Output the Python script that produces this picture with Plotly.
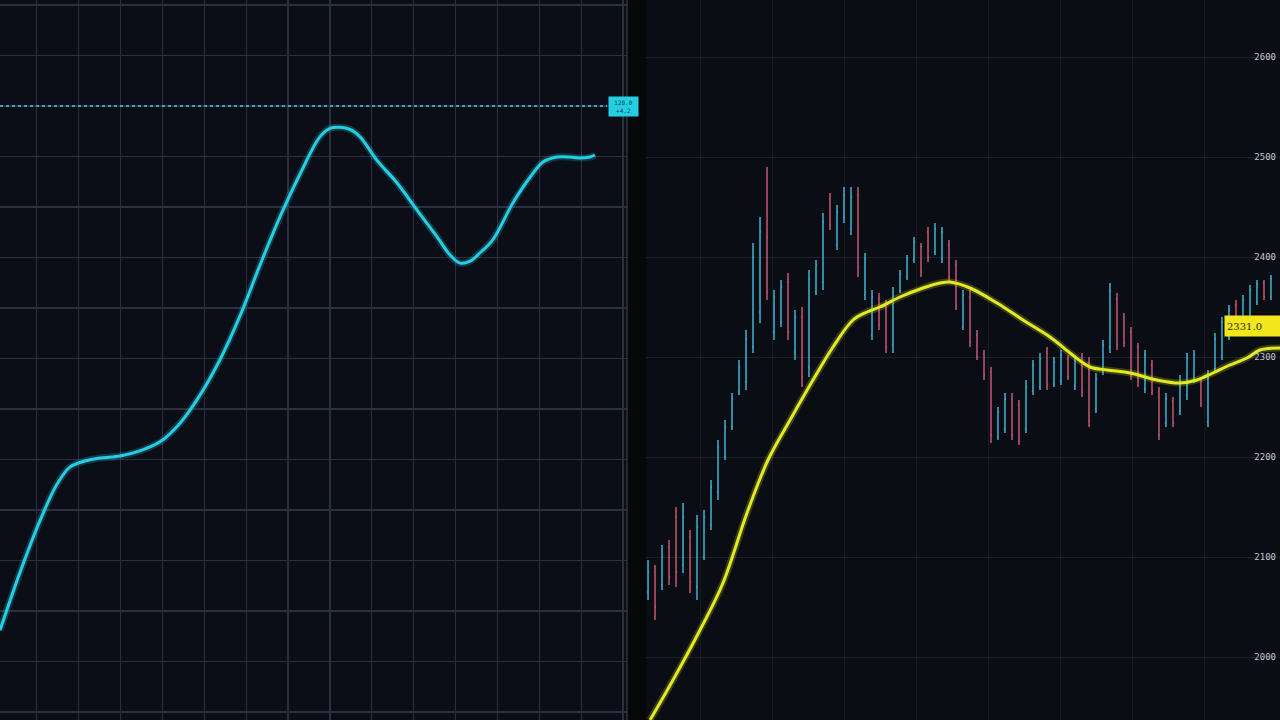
import plotly.graph_objects as go

# ---------------- Left panel: smooth cyan indicator ----------------
left_x = [0.00, 0.48, 0.96, 1.36, 1.67, 2.03, 2.39, 2.87, 3.34, 3.82, 4.30, 4.78, 5.25,
          5.73, 6.21, 6.69, 7.17, 7.64, 7.88, 8.12, 8.36, 8.60, 9.00, 9.48, 9.96, 10.44,
          10.75, 10.99, 11.23, 11.46, 11.77, 12.25, 12.66, 12.97, 13.30, 13.61, 13.85,
          14.09, 14.21]
left_y = [16.2, 27.7, 38.0, 45.1, 48.5, 49.7, 50.3, 50.7, 51.7, 53.5, 57.2, 62.8, 69.7,
          78.4, 88.5, 98.1, 106.6, 113.9, 115.6, 115.8, 115.4, 113.9, 109.3, 104.8, 99.4,
          94.1, 90.5, 88.9, 89.3, 90.9, 93.5, 100.8, 105.9, 108.9, 109.9, 109.9, 109.7,
          109.9, 110.3]
left_level = 120.0
left_level_label = "120.0<br>+4.2"

# ---------------- Right panel: price bars + moving average ----------------
bar_high = [2097, 2092, 2112, 2117, 2150, 2154, 2127, 2142, 2147, 2177, 2217, 2237, 2264, 2297,
            2327, 2414, 2440, 2490, 2367, 2377, 2384, 2347, 2350, 2387, 2397, 2444, 2464, 2452,
            2470, 2470, 2470, 2404, 2367, 2364, 2357, 2370, 2387, 2402, 2420, 2414, 2430, 2434,
            2430, 2417, 2397, 2367, 2367, 2327, 2307, 2290, 2250, 2264, 2264, 2257, 2277, 2297,
            2304, 2310, 2300, 2307, 2302, 2302, 2304, 2300, 2284, 2317, 2374, 2364, 2344, 2330,
            2314, 2307, 2297, 2270, 2264, 2260, 2282, 2304, 2307, 2280, 2287, 2324, 2340, 2352,
            2357, 2362, 2372, 2377, 2377, 2382]
bar_low = [2057, 2037, 2067, 2072, 2070, 2084, 2064, 2057, 2097, 2127, 2157, 2197, 2227, 2262,
           2267, 2304, 2334, 2357, 2317, 2330, 2317, 2297, 2270, 2280, 2362, 2367, 2427, 2407,
           2434, 2422, 2380, 2357, 2317, 2327, 2304, 2304, 2364, 2377, 2394, 2380, 2395, 2402,
           2394, 2375, 2347, 2327, 2310, 2297, 2277, 2214, 2217, 2224, 2217, 2212, 2224, 2262,
           2267, 2267, 2270, 2272, 2277, 2267, 2260, 2230, 2244, 2282, 2304, 2307, 2310, 2277,
           2270, 2264, 2262, 2217, 2230, 2230, 2242, 2257, 2274, 2250, 2230, 2284, 2297, 2317,
           2327, 2327, 2337, 2352, 2357, 2357]
bar_open = [2065, 2085, 2072, 2110, 2140, 2092, 2120, 2070, 2100, 2132, 2165, 2200, 2230, 2265,
            2275, 2310, 2345, 2420, 2325, 2335, 2375, 2305, 2340, 2290, 2365, 2375, 2458, 2412,
            2440, 2428, 2462, 2362, 2322, 2358, 2350, 2312, 2366, 2380, 2397, 2410, 2425, 2405,
            2398, 2412, 2392, 2330, 2360, 2322, 2303, 2285, 2220, 2228, 2258, 2252, 2228, 2266,
            2270, 2305, 2273, 2276, 2298, 2271, 2300, 2294, 2248, 2286, 2310, 2358, 2340, 2325,
            2310, 2268, 2292, 2265, 2234, 2256, 2246, 2262, 2278, 2276, 2235, 2288, 2301, 2320,
            2352, 2330, 2340, 2355, 2374, 2360]
bar_close = [2085, 2050, 2100, 2080, 2085, 2140, 2075, 2130, 2140, 2170, 2210, 2230, 2258, 2290,
             2318, 2400, 2425, 2365, 2360, 2370, 2325, 2340, 2280, 2378, 2392, 2435, 2432, 2445,
             2462, 2460, 2390, 2398, 2360, 2332, 2310, 2362, 2383, 2398, 2415, 2385, 2400, 2428,
             2425, 2380, 2352, 2362, 2315, 2300, 2282, 2222, 2245, 2258, 2222, 2216, 2270, 2292,
             2298, 2272, 2295, 2302, 2280, 2296, 2265, 2236, 2278, 2312, 2366, 2312, 2314, 2282,
             2275, 2302, 2266, 2222, 2258, 2234, 2276, 2298, 2302, 2254, 2280, 2318, 2335, 2347,
             2331, 2357, 2367, 2373, 2360, 2378]
bar_index = list(range(len(bar_high)))

ma_x = [0.29, 3.57, 7.43, 10.71, 14.14, 17.14, 20.29, 23.57, 26.43, 29.29, 31.29, 33.14, 36.00,
        39.29, 41.71, 43.14, 46.00, 49.86, 53.57, 57.43, 60.29, 63.14, 65.57, 68.86, 72.71,
        76.00, 78.43, 80.71, 83.14, 85.57, 87.43, 90.29]
ma_y = [1937, 1977, 2027, 2074, 2144, 2197, 2237, 2277, 2310, 2337, 2345, 2350, 2360, 2369, 2374,
        2375, 2369, 2354, 2337, 2320, 2304, 2290, 2287, 2284, 2277, 2274, 2277, 2284, 2292, 2299,
        2307, 2309]
price_label = "2331.0"
price_label_level = 2331
right_ticks = [2000, 2100, 2200, 2300, 2400, 2500, 2600]

CYAN = "#25cfe3"
YELLOW = "#e3eb1f"

fig = go.Figure()

# cyan glow + line
fig.add_trace(go.Scatter(x=left_x, y=left_y, mode="lines", xaxis="x", yaxis="y",
                         line=dict(color="rgba(37,207,227,0.22)", width=7, shape="spline"),
                         hoverinfo="skip", showlegend=False))
fig.add_trace(go.Scatter(x=left_x, y=left_y, mode="lines", xaxis="x", yaxis="y",
                         line=dict(color=CYAN, width=3, shape="spline"), showlegend=False))
# dotted level line
fig.add_trace(go.Scatter(x=[0, 14.5], y=[left_level, left_level], mode="lines",
                         xaxis="x", yaxis="y",
                         line=dict(color="#4fc6da", width=1.6, dash="dot"), showlegend=False))

# OHLC bars
fig.add_trace(go.Ohlc(x=bar_index, open=bar_open, high=bar_high, low=bar_low, close=bar_close,
                      xaxis="x2", yaxis="y2", tickwidth=0.15,
                      increasing=dict(line=dict(color="#3fa9c6", width=1.6)),
                      decreasing=dict(line=dict(color="#b9546e", width=1.6)),
                      showlegend=False))
# moving average
fig.add_trace(go.Scatter(x=ma_x, y=ma_y, mode="lines", xaxis="x2", yaxis="y2",
                         line=dict(color="rgba(227,235,31,0.22)", width=7, shape="spline"),
                         hoverinfo="skip", showlegend=False))
fig.add_trace(go.Scatter(x=ma_x, y=ma_y, mode="lines", xaxis="x2", yaxis="y2",
                         line=dict(color=YELLOW, width=3, shape="spline"), showlegend=False))

fig.update_layout(
    width=1280, height=720, autosize=False,
    margin=dict(l=0, r=0, t=0, b=0, pad=0),
    paper_bgcolor="#050709",
    plot_bgcolor="rgba(0,0,0,0)",
    showlegend=False,
    xaxis=dict(domain=[0, 628 / 1280], range=[0, 15.0], tick0=0.88, dtick=1,
               showgrid=True, gridcolor="#2a3041", gridwidth=1.2, zeroline=False,
               showticklabels=False, showline=False, fixedrange=True),
    yaxis=dict(domain=[0, 1], range=[-1.58, 141.0], tick0=0, dtick=10, anchor="x",
               showgrid=True, gridcolor="#2a3041", gridwidth=1.2, zeroline=False,
               showticklabels=False, fixedrange=True),
    xaxis2=dict(domain=[646 / 1280, 1], range=[-0.29, 90.29], tick0=7.43, dtick=10.3,
                anchor="y2", showgrid=True, gridcolor="#161a23", zeroline=False,
                showticklabels=False, rangeslider=dict(visible=False), fixedrange=True),
    yaxis2=dict(domain=[0, 1], range=[1937, 2657], tickvals=right_ticks,
                ticktext=[str(v) for v in right_ticks], anchor="x2", side="right",
                ticklabelposition="inside", ticklabelstandoff=1, showgrid=True,
                gridcolor="#1c2029", zeroline=False,
                tickfont=dict(family="DejaVu Sans Mono", size=9, color="#c3c7cf"),
                fixedrange=True),
    shapes=[
        dict(type="rect", xref="paper", yref="paper", x0=0, x1=628 / 1280, y0=0, y1=1,
             fillcolor="#0b0e17", line=dict(width=0), layer="below"),
        dict(type="rect", xref="paper", yref="paper", x0=646 / 1280, x1=1, y0=0, y1=1,
             fillcolor="#0a0d14", line=dict(width=0), layer="below"),
        dict(type="line", xref="paper", yref="paper", x0=627 / 1280, x1=627 / 1280, y0=0, y1=1,
             line=dict(color="#2a3041", width=1.5), layer="below"),
    ],
    annotations=[
        dict(xref="paper", yref="y", x=608 / 1280, y=left_level, xanchor="left", yanchor="middle",
             text=left_level_label, showarrow=False, bgcolor=CYAN, borderpad=1,
             width=27, height=17, font=dict(family="DejaVu Sans Mono", size=6, color="#0a3a44")),
        dict(xref="paper", yref="y2", x=1224 / 1280, y=price_label_level, xanchor="left",
             yanchor="middle", text=price_label, showarrow=False, bgcolor="#f1e71c",
             borderpad=2, width=52, height=16, align="left",
             font=dict(family="DejaVu Serif", size=10, color="#2a2a10")),
    ],
)

fig.write_html(
    "out.html",
    config={"displayModeBar": False, "staticPlot": True},
    post_script="document.body.style.margin='0';document.body.style.padding='0';"
                "document.body.style.background='#050709';"
                "document.body.style.overflow='hidden';",
)
